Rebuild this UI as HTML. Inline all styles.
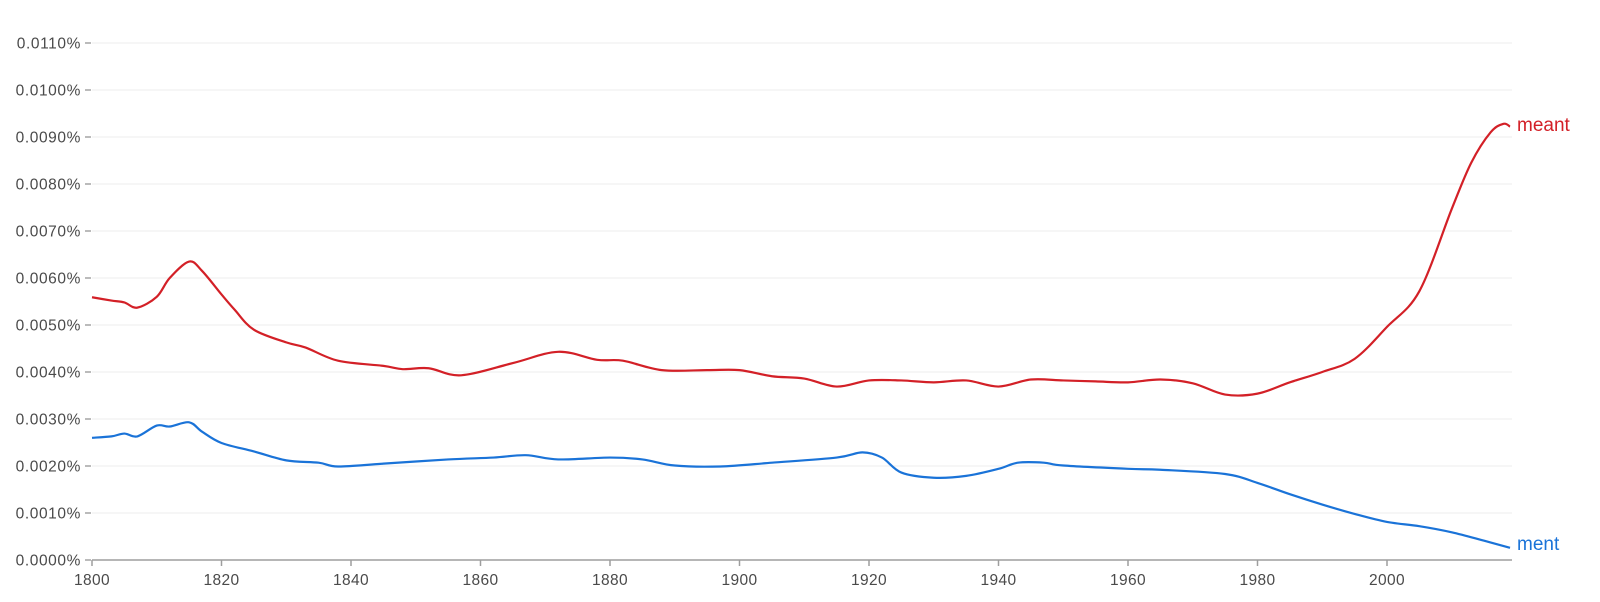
<!DOCTYPE html>
<html><head><meta charset="utf-8"><style>
html,body{margin:0;padding:0;background:#fff;}
svg text{font-family:"Liberation Sans",sans-serif;}
</style></head><body>
<svg id="c" width="1600" height="597" xmlns="http://www.w3.org/2000/svg"></svg>
<script>
const s=document.getElementById('c');
const X=y=>92+(y-1800)*6.475, Y=v=>560-v*47;
let h='';
for(let i=0;i<=11;i++){const y=Y(i);
 if(i>0)h+=`<line x1="92" x2="1512" y1="${y}" y2="${y}" stroke="#eeeeee" stroke-width="1"/>`;
 h+=`<line x1="85" x2="91" y1="${y}" y2="${y}" stroke="#777" stroke-width="1"/>`;
 h+=`<text x="81" y="${y+5.5}" text-anchor="end" font-size="15.5" letter-spacing="0.6" fill="#4a4a4a">${(i/1000).toFixed(4)}%</text>`;}
h+=`<line x1="92" x2="1512" y1="560" y2="560" stroke="#9e9e9e" stroke-width="1.5"/>`;
for(let yr=1800;yr<=2000;yr+=20){const x=X(yr);
 h+=`<line x1="${x}" x2="${x}" y1="560" y2="566" stroke="#9e9e9e" stroke-width="1.5"/>`;
 h+=`<text x="${x}" y="585" text-anchor="middle" font-size="15.5" letter-spacing="0.4" fill="#4a4a4a">${yr}</text>`;}
const meant=[[1800,5.59],[1803,5.52],[1805,5.48],[1807,5.37],[1810,5.6],[1812,6.0],[1815,6.35],[1817,6.15],[1820,5.65],[1822,5.33],[1825,4.9],[1830,4.63],[1833,4.52],[1838,4.24],[1845,4.13],[1848,4.06],[1852,4.08],[1857,3.93],[1865,4.19],[1872,4.43],[1878,4.26],[1882,4.24],[1888,4.04],[1895,4.04],[1900,4.04],[1905,3.91],[1910,3.86],[1915,3.69],[1920,3.82],[1925,3.82],[1930,3.78],[1935,3.82],[1940,3.69],[1945,3.84],[1950,3.82],[1955,3.8],[1960,3.78],[1965,3.84],[1970,3.76],[1975,3.52],[1980,3.54],[1985,3.78],[1990,4.0],[1995,4.28],[2000,4.96],[2005,5.72],[2010,7.47],[2013,8.45],[2016,9.1],[2018,9.28],[2019,9.22]];
const ment=[[1800,2.6],[1803,2.63],[1805,2.69],[1807,2.63],[1810,2.86],[1812,2.84],[1815,2.93],[1817,2.73],[1820,2.49],[1825,2.31],[1830,2.12],[1835,2.07],[1838,1.99],[1845,2.05],[1855,2.14],[1862,2.18],[1867,2.23],[1872,2.14],[1880,2.18],[1885,2.14],[1890,2.01],[1897,1.99],[1905,2.07],[1915,2.18],[1919,2.29],[1922,2.18],[1925,1.86],[1930,1.75],[1935,1.79],[1940,1.94],[1943,2.07],[1947,2.07],[1950,2.01],[1960,1.94],[1965,1.92],[1975,1.83],[1980,1.64],[1985,1.4],[1990,1.18],[1995,0.98],[2000,0.81],[2005,0.72],[2010,0.59],[2015,0.41],[2019,0.26]];
function path(d){const p=d.map(a=>[X(a[0]),Y(a[1])]);let r=`M${p[0][0]},${p[0][1]}`;
 for(let i=0;i<p.length-1;i++){const p0=p[i-1]||p[i],p1=p[i],p2=p[i+1],p3=p[i+2]||p2;
  r+=` C${p1[0]+(p2[0]-p0[0])/6},${p1[1]+(p2[1]-p0[1])/6} ${p2[0]-(p3[0]-p1[0])/6},${p2[1]-(p3[1]-p1[1])/6} ${p2[0]},${p2[1]}`;}return r;}
h+=`<path d="${path(meant)}" fill="none" stroke="#d32027" stroke-width="2.2"/>`;
h+=`<path d="${path(ment)}" fill="none" stroke="#1a73d8" stroke-width="2.2"/>`;
h+=`<text x="1517" y="131" font-size="19" fill="#d32027">meant</text>`;
h+=`<text x="1517" y="550" font-size="19" fill="#1a73d8">ment</text>`;
s.innerHTML=h;
</script>
</body></html>
